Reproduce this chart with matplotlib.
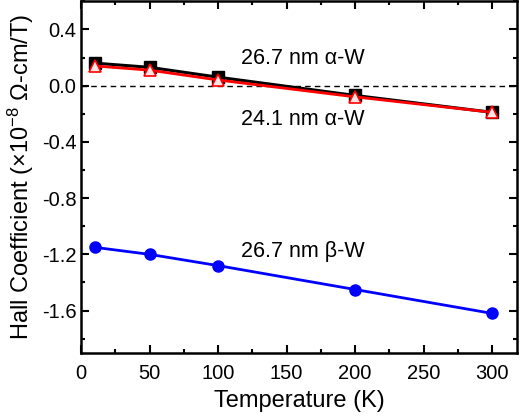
import matplotlib
matplotlib.use("Agg")
import matplotlib.pyplot as plt
from matplotlib.ticker import MultipleLocator

plt.rcParams['font.family'] = ['Liberation Sans', 'DejaVu Sans']
plt.rcParams['mathtext.fontset'] = 'custom'
plt.rcParams['mathtext.rm'] = 'Liberation Sans'
plt.rcParams['mathtext.it'] = 'Liberation Sans'

temperature = [10, 50, 100, 200, 300]
alpha_267 = [0.16, 0.13, 0.06, -0.07, -0.19]
alpha_241 = [0.14, 0.11, 0.04, -0.08, -0.19]
beta_267 = [-1.15, -1.20, -1.28, -1.45, -1.62]

fig = plt.figure(figsize=(5.2, 4.19), dpi=100)
ax = fig.add_axes([0.156, 0.158, 0.838, 0.839])

ax.axhline(0, color='black', lw=1, ls=(0, (4, 3)), zorder=1)
ax.plot(temperature, alpha_267, color='black', lw=2.2, marker='s', ms=9,
        mfc='black', mec='black', zorder=3)
ax.plot(temperature, alpha_241, color='red', lw=2.0, marker='^', ms=9,
        mfc='#ffe6e6', mec='red', mew=1.2, zorder=4)
ax.plot(temperature, beta_267, color='blue', lw=2.0, marker='o', ms=8,
        mfc='blue', mec='blue', zorder=3)

ax.text(162, 0.19, '26.7 nm α-W', ha='center', va='center', fontsize=15.5)
ax.text(162, -0.24, '24.1 nm α-W', ha='center', va='center', fontsize=15.5)
ax.text(162, -1.18, '26.7 nm β-W', ha='center', va='center', fontsize=15.5)

ax.set_xlim(0, 318)
ax.set_ylim(-1.9, 0.6)
ax.xaxis.set_major_locator(MultipleLocator(50))
ax.xaxis.set_minor_locator(MultipleLocator(25))
ax.yaxis.set_minor_locator(MultipleLocator(0.2))
ax.set_yticks([0.4, 0.0, -0.4, -0.8, -1.2, -1.6])
ax.set_yticklabels(['0.4', '0.0', '-0.4', '-0.8', '-1.2', '-1.6'])
ax.tick_params(which='both', direction='in', top=True, right=True,
               width=1.5, labelsize=14.5)
ax.tick_params(which='major', length=6)
ax.tick_params(which='minor', length=3)
ax.tick_params(axis='x', pad=8)
for s in ax.spines.values():
    s.set_linewidth(1.8)

ax.set_xlabel('Temperature (K)', fontsize=17, labelpad=5)
ax.set_ylabel('Hall Coefficient (×10$^{-8}$ Ω-cm/T)', fontsize=17, labelpad=4)

fig.savefig('out.png', dpi=100)
